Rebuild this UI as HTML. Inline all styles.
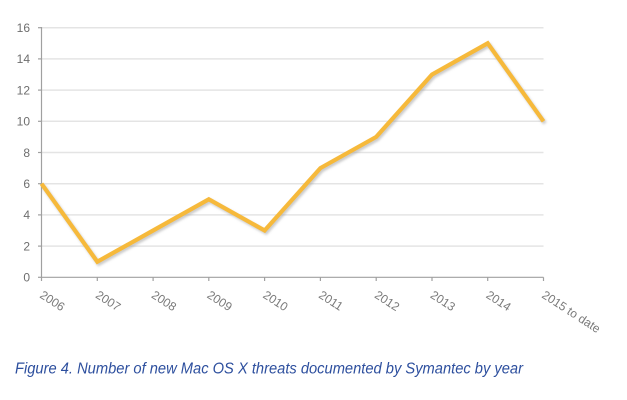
<!DOCTYPE html>
<html>
<head>
<meta charset="utf-8">
<style>
  html,body{margin:0;padding:0;background:#fff;}
  svg{display:block;}
</style>
</head>
<body>
<svg width="627" height="400" viewBox="0 0 627 400" xmlns="http://www.w3.org/2000/svg">
  <defs>
    <filter id="sh" x="-10%" y="-10%" width="120%" height="130%">
      <feGaussianBlur stdDeviation="1.2"/>
    </filter>
  </defs>
  <rect width="627" height="400" fill="#fff"/>
  <!-- gridlines -->
  <g stroke="#e4e4e4" stroke-width="1.5">
    <line x1="41.5" y1="27.7" x2="543.5" y2="27.7"/>
    <line x1="41.5" y1="58.9" x2="543.5" y2="58.9"/>
    <line x1="41.5" y1="90.1" x2="543.5" y2="90.1"/>
    <line x1="41.5" y1="121.3" x2="543.5" y2="121.3"/>
    <line x1="41.5" y1="152.5" x2="543.5" y2="152.5"/>
    <line x1="41.5" y1="183.7" x2="543.5" y2="183.7"/>
    <line x1="41.5" y1="214.9" x2="543.5" y2="214.9"/>
    <line x1="41.5" y1="246.1" x2="543.5" y2="246.1"/>
  </g>
  <!-- axes -->
  <g stroke="#a0a0a0" stroke-width="1.2">
    <line x1="41.5" y1="27" x2="41.5" y2="281"/>
    <line x1="41.5" y1="277.3" x2="543.5" y2="277.3"/>
    <line x1="38" y1="27.7" x2="41.5" y2="27.7"/>
    <line x1="38" y1="58.9" x2="41.5" y2="58.9"/>
    <line x1="38" y1="90.1" x2="41.5" y2="90.1"/>
    <line x1="38" y1="121.3" x2="41.5" y2="121.3"/>
    <line x1="38" y1="152.5" x2="41.5" y2="152.5"/>
    <line x1="38" y1="183.7" x2="41.5" y2="183.7"/>
    <line x1="38" y1="214.9" x2="41.5" y2="214.9"/>
    <line x1="38" y1="246.1" x2="41.5" y2="246.1"/>
    <line x1="38" y1="277.3" x2="41.5" y2="277.3"/>
    <line x1="97.3" y1="277.3" x2="97.3" y2="281"/>
    <line x1="153.1" y1="277.3" x2="153.1" y2="281"/>
    <line x1="208.8" y1="277.3" x2="208.8" y2="281"/>
    <line x1="264.6" y1="277.3" x2="264.6" y2="281"/>
    <line x1="320.4" y1="277.3" x2="320.4" y2="281"/>
    <line x1="376.2" y1="277.3" x2="376.2" y2="281"/>
    <line x1="432" y1="277.3" x2="432" y2="281"/>
    <line x1="487.7" y1="277.3" x2="487.7" y2="281"/>
    <line x1="543.5" y1="277.3" x2="543.5" y2="281"/>
  </g>
  <!-- y labels -->
  <g font-family="Liberation Sans, sans-serif" font-size="12" fill="#6e6e6e" text-anchor="end">
    <text x="30" y="32">16</text>
    <text x="30" y="63.2">14</text>
    <text x="30" y="94.4">12</text>
    <text x="30" y="125.6">10</text>
    <text x="30" y="156.8">8</text>
    <text x="30" y="188">6</text>
    <text x="30" y="219.2">4</text>
    <text x="30" y="250.4">2</text>
    <text x="30" y="281.6">0</text>
  </g>
  <!-- x labels -->
  <g font-family="Liberation Sans, sans-serif" font-size="12" fill="#7a7a7a">
    <text transform="translate(39,297) rotate(33)">2006</text>
    <text transform="translate(94.8,297) rotate(33)">2007</text>
    <text transform="translate(150.6,297) rotate(33)">2008</text>
    <text transform="translate(206.3,297) rotate(33)">2009</text>
    <text transform="translate(262.1,297) rotate(33)">2010</text>
    <text transform="translate(317.9,297) rotate(33)">2011</text>
    <text transform="translate(373.7,297) rotate(33)">2012</text>
    <text transform="translate(429.5,297) rotate(33)">2013</text>
    <text transform="translate(485.2,297) rotate(33)">2014</text>
    <text transform="translate(541,297) rotate(33)">2015 to date</text>
  </g>
  <!-- series shadow -->
  <polyline fill="none" stroke="#9a9a9a" stroke-opacity="0.55" stroke-width="4" stroke-linejoin="miter" filter="url(#sh)"
    transform="translate(1.5,2)"
    points="41.5,183.7 97.3,261.7 153.1,230.5 208.8,199.3 264.6,230.5 320.4,168.1 376.2,136.9 432,74.5 487.7,43.3 543.5,121.3"/>
  <!-- series -->
  <polyline fill="none" stroke="#f6b93b" stroke-width="4.2" stroke-linejoin="miter"
    points="41.5,183.7 97.3,261.7 153.1,230.5 208.8,199.3 264.6,230.5 320.4,168.1 376.2,136.9 432,74.5 487.7,43.3 543.5,121.3"/>
  <!-- caption -->
  <text x="15" y="373.5" font-family="Liberation Sans, sans-serif" font-style="italic" font-size="15.5" fill="#2d4f9e"
    textLength="508" lengthAdjust="spacingAndGlyphs">Figure 4. Number of new Mac OS X threats documented by Symantec by year</text>
</svg>
</body>
</html>
